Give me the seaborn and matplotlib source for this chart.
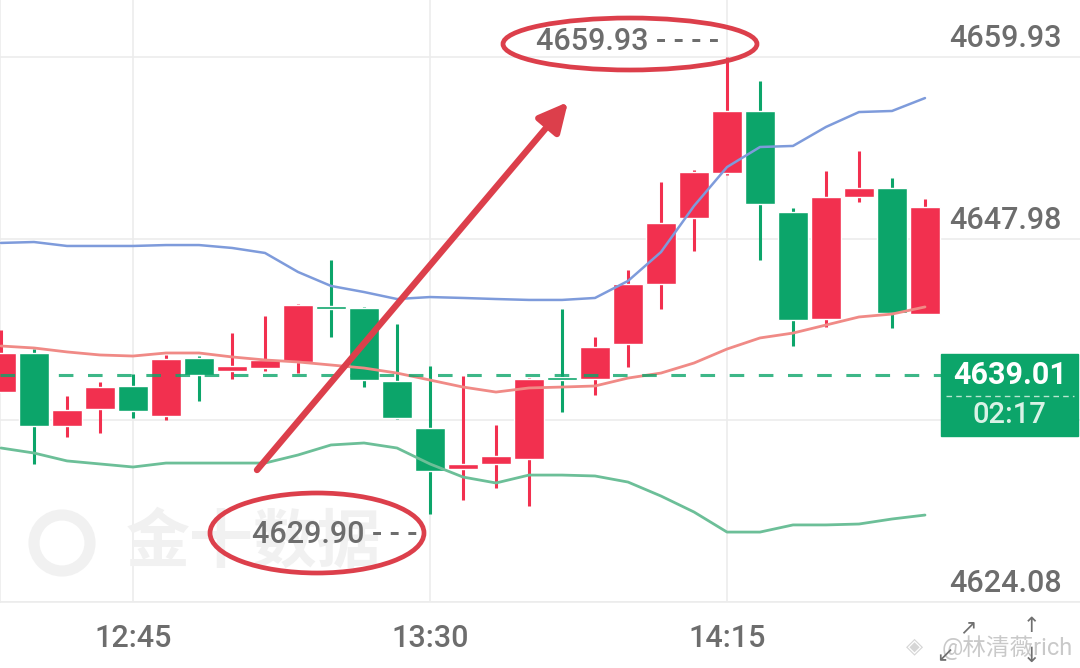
import pandas as pd
import seaborn as sns
import matplotlib.pyplot as plt
import matplotlib.transforms as mtrans
from matplotlib.patches import Ellipse, Rectangle, Circle

# 5 minute candles, 12:25 .. 14:45
times = pd.date_range("2024-01-01 12:25", periods=29, freq="5min").strftime("%H:%M")
opens = [4637.89, 4640.46, 4635.66, 4636.77, 4638.29, 4636.31, 4640.13, 4639.28, 4639.48, 4639.87,
         4643.49, 4643.42, 4638.62, 4635.52, 4632.83, 4633.16, 4633.49, 4638.81, 4638.75, 4641.05,
         4644.98, 4649.34, 4652.30, 4656.38, 4649.73, 4642.70, 4650.72, 4651.31, 4643.02]
highs = [4641.97, 4640.72, 4637.63, 4638.55, 4639.08, 4640.33, 4640.26, 4641.77, 4642.89, 4643.68,
         4646.58, 4643.50, 4642.37, 4639.60, 4638.95, 4635.72, 4638.80, 4643.35, 4641.51, 4645.92,
         4651.71, 4652.50, 4659.93, 4658.35, 4650.00, 4652.43, 4653.75, 4651.97, 4650.59]
lows = [4637.89, 4633.16, 4634.93, 4635.20, 4636.18, 4636.05, 4637.30, 4638.75, 4639.28, 4639.14,
        4641.51, 4638.22, 4636.10, 4629.90, 4630.79, 4631.58, 4630.40, 4636.58, 4637.70, 4639.54,
        4643.35, 4647.17, 4652.20, 4646.58, 4640.92, 4642.17, 4650.39, 4642.10, 4643.00]
closes = [4640.46, 4635.66, 4636.71, 4638.22, 4636.64, 4640.06, 4639.01, 4639.60, 4640.00, 4643.62,
          4643.35, 4638.68, 4636.18, 4632.69, 4633.16, 4633.68, 4638.75, 4638.68, 4640.85, 4644.98,
          4649.01, 4652.36, 4656.38, 4650.26, 4642.63, 4650.72, 4651.31, 4643.09, 4650.06]

# bollinger bands
boll_upper = [4647.70, 4647.76, 4647.50, 4647.50, 4647.50, 4647.56, 4647.56, 4647.37, 4647.04, 4645.79,
              4644.87, 4644.47, 4644.01, 4644.14, 4644.08, 4644.01, 4643.95, 4643.95, 4644.08, 4645.20,
              4647.10, 4650.13, 4652.69, 4654.01, 4654.08, 4655.33, 4656.31, 4656.38, 4657.23]
boll_mid = [4640.92, 4640.79, 4640.53, 4640.33, 4640.26, 4640.46, 4640.46, 4640.20, 4640.00, 4639.87,
            4639.67, 4639.47, 4639.14, 4638.68, 4638.22, 4637.89, 4638.16, 4638.22, 4638.29, 4638.81,
            4639.14, 4639.80, 4640.72, 4641.45, 4641.77, 4642.30, 4642.83, 4643.02, 4643.49]
boll_lower = [4634.21, 4633.88, 4633.36, 4633.16, 4632.96, 4633.22, 4633.22, 4633.22, 4633.22, 4633.75,
              4634.41, 4634.54, 4634.21, 4633.16, 4632.30, 4631.91, 4632.43, 4632.43, 4632.37, 4631.97,
              4631.05, 4630.00, 4628.68, 4628.68, 4629.15, 4629.15, 4629.21, 4629.54, 4629.80]

tick_times = ["12:45", "13:30", "14:15"]
price_levels = [4624.08, 4636.03, 4647.98, 4659.93]
level_labels = ["4624.08", "", "4647.98", "4659.93"]
last_price = 4639.01
countdown = "02:17"
period_high = 4659.93
period_low = 4629.90

RED = "#f2304f"
GREEN = "#0ca56a"
GRID = "#ececec"
TXT = "#6d6d6d"
MARK = "#dc3f4b"

df = pd.DataFrame({"time": times, "open": opens, "high": highs, "low": lows, "close": closes,
                   "upper": boll_upper, "mid": boll_mid, "lower": boll_lower})
df["i"] = range(len(df))

sns.set_theme(style="white")
plt.rcParams["font.family"] = ["Roboto", "Noto Sans CJK SC", "DejaVu Sans"]
plt.rcParams["lines.scale_dashes"] = False

fig = plt.figure(figsize=(10.8, 6.68), dpi=100)
ax = fig.add_axes([0, 66 / 668, 1, 602 / 668])
# pixel coordinates (top-left origin) for the screenshot decorations
pix = mtrans.Affine2D().scale(1, -1).translate(0, 668)

up = df["close"] >= df["open"]
colors = [RED if u else GREEN for u in up]
body_lo = df[["open", "close"]].min(axis=1)
body_h = (df["close"] - df["open"]).abs().clip(lower=0.22)

ax.vlines(df["i"], df["low"], df["high"], colors=colors, lw=2.2, zorder=3)
ax.bar(df["i"], body_h, bottom=body_lo, width=0.88, color=colors, zorder=3)

sns.lineplot(data=df, x="i", y="upper", color="#7e9bdb", lw=1.8, ax=ax, zorder=4)
sns.lineplot(data=df, x="i", y="mid", color="#f08a86", lw=2.0, ax=ax, zorder=4)
sns.lineplot(data=df, x="i", y="lower", color="#6cbf98", lw=2.0, ax=ax, zorder=4)

# last price dashed line + price box
ax.axhline(last_price, xmin=0, xmax=941 / 1080, color=GREEN, lw=2.2, alpha=0.8,
           linestyle=(0, (10.5, 10.5)), zorder=5)
yax = ax.get_yaxis_transform()
ax.add_patch(Rectangle((941 / 1080, last_price - 4.01), 137 / 1080, 5.40, transform=yax,
                       color=GREEN, zorder=6, clip_on=False))
ax.plot([0.876, 0.994], [last_price - 1.38] * 2, transform=yax, color="#b9e6d0", lw=1.0,
        linestyle=(0, (4, 3)), zorder=7)
ax.text(0.935, last_price, f"{last_price:.2f}", transform=yax, ha="center", va="center",
        color="white", fontsize=22, fontweight="bold", zorder=7)
ax.text(0.935, last_price - 2.63, countdown, transform=yax, ha="center", va="center",
        color="#d9f2e6", fontsize=21, fontweight="medium", zorder=7)

# axes, grid, ticks
ax.set_xlim(-1 / 33, 1079 / 33)
ax.set_ylim(4624.08, 4663.68)
ax.set_yticks(price_levels)
ax.set_yticklabels([])
ax.set_xticks([df.index[df["time"] == t][0] for t in tick_times])
ax.set_xticklabels(tick_times, fontweight="medium")
ax.tick_params(axis="x", length=0, pad=16, labelsize=22, labelcolor=TXT)
ax.tick_params(axis="y", length=0)
ax.grid(True, color=GRID, lw=1.2, zorder=0)
ax.set_xlabel("")
ax.set_ylabel("")
for s in ["top", "right"]:
    ax.spines[s].set_visible(False)
for s in ["left", "bottom"]:
    ax.spines[s].set_color(GRID)
    ax.spines[s].set_linewidth(1.2)

for lvl, lab in zip(price_levels, level_labels):
    if lab:
        ax.annotate(lab, xy=(1, lvl), xycoords=yax, xytext=(-18, 10), textcoords="offset pixels",
                    ha="right", va="baseline", fontsize=22, color=TXT, fontweight="medium")

# high / low marks
hi_i = df["high"].idxmax()
lo_i = df["low"].idxmin()
ax.annotate(f"{period_high:.2f} - - - -", xy=(hi_i, period_high), xytext=(-8, 16),
            textcoords="offset pixels", ha="right", va="center", fontsize=22, color=TXT,
            fontweight="medium", zorder=8)
ax.annotate(f"{period_low:.2f} - - -", xy=(lo_i, period_low), xytext=(-13, -21),
            textcoords="offset pixels", ha="right", va="center", fontsize=22, color=TXT,
            fontweight="medium", zorder=8)

# hand-drawn red marks
ax.add_patch(Ellipse((630, 44), 254, 52, transform=pix, fill=False, ec=MARK, lw=3.4,
                     clip_on=False, zorder=9))
ax.add_patch(Ellipse((317, 533), 214, 80, transform=pix, fill=False, ec=MARK, lw=3.4,
                     clip_on=False, zorder=9))
ax.annotate("", xy=(568, 102), xytext=(257, 470), xycoords=pix, textcoords=pix,
            arrowprops=dict(arrowstyle="-|>,head_length=1.1,head_width=0.55", lw=4.6,
                            color=MARK, mutation_scale=16, shrinkA=0, shrinkB=0), zorder=9)

# watermarks
ax.add_patch(Circle((62, 543), 28, transform=pix, fill=False, ec="#f1f1f1", lw=8,
                    clip_on=False, zorder=1))
ax.text(253, 543, "金十数据", transform=pix, ha="center", va="center", fontsize=46,
        fontweight="bold", color="#f1f1f1", family=["Noto Sans CJK SC"], zorder=1)
ax.text(914, 646, "◈", transform=pix, ha="center", va="center", fontsize=16,
        color="#d6d6d6", family=["DejaVu Sans"], zorder=8)
ax.text(1073, 648, "@林清薇rich", transform=pix, ha="right", va="center", fontsize=17,
        color="#c9c9c9", zorder=8)
for glyph, x, y in [("↗", 968, 627), ("↙", 945, 654), ("↑", 1031, 626), ("↓", 1031, 656)]:
    ax.text(x, y, glyph, transform=pix, ha="center", va="center", fontsize=15, color="#707070",
            family=["DejaVu Sans"], zorder=9)

fig.savefig("out.png", dpi=100)
